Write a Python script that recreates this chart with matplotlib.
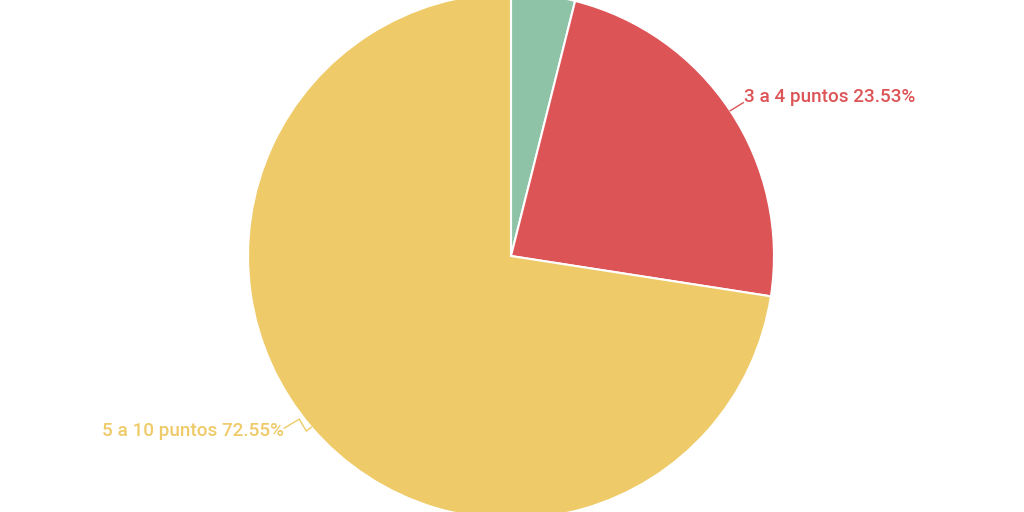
import numpy as np
import matplotlib.pyplot as plt

# pie data
labels = ['1 a 2 puntos', '3 a 4 puntos', '5 a 10 puntos']
values = [3.92, 23.53, 72.55]
colors = ['#8fc3a8', '#dd5457', '#eeca69']
show_label = [False, True, True]

plt.rcParams['font.family'] = ['Roboto', 'DejaVu Sans']

fig = plt.figure(figsize=(10.24, 5.12), dpi=100)
ax = fig.add_axes([0, 0, 1, 1])

cx, cy, r = 511, 256, 263
wedges, _ = ax.pie(values, colors=colors, startangle=90, counterclock=False,
                   center=(cx, cy), radius=r,
                   wedgeprops=dict(edgecolor='white', linewidth=1.5))
ax.set_xlim(0, 1024)
ax.set_ylim(0, 512)
ax.set_aspect('equal')
ax.axis('off')

# label layout: leader elbows + text anchor relative to the slice edge (pixels, y up)
layout = {
    1: dict(pts=[(0, 0), (13, 8)], text=(14, 14), ha='left'),
    2: dict(pts=[(0, 0), (-5, -4), (-12, 8), (-27, -1)], text=(-27, -4), ha='right'),
}

for i, w in enumerate(wedges):
    if not show_label[i]:
        continue
    mid = np.deg2rad((w.theta1 + w.theta2) / 2)
    ex = cx + r * np.cos(mid)
    ey = cy + r * np.sin(mid)
    lay = layout[i]
    xs = [ex + p[0] for p in lay['pts']]
    ys = [ey + p[1] for p in lay['pts']]
    ax.plot(xs, ys, color=colors[i], lw=1)
    tx, ty = lay['text']
    ax.text(ex + tx, ey + ty,
            '{} {:.2f}%'.format(labels[i], values[i]),
            color=colors[i], fontsize=13.6, fontweight='medium',
            ha=lay['ha'], va='center')

plt.savefig('out.png', dpi=100)
